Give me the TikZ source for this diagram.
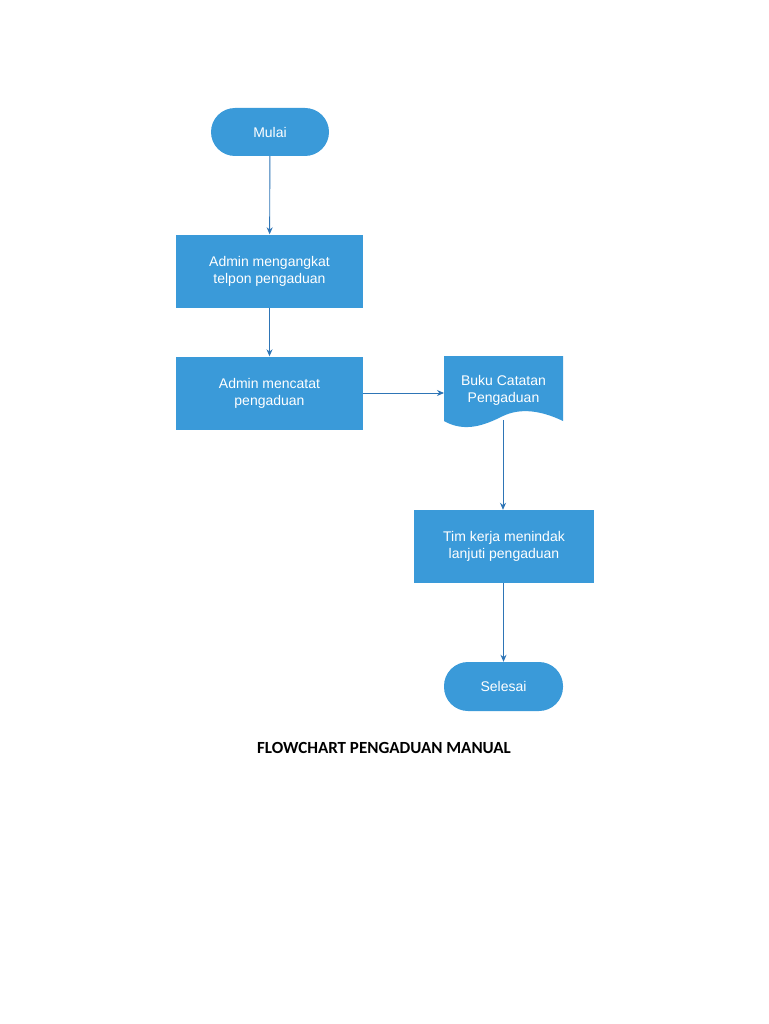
\documentclass[tikz,border=0pt]{standalone}
\usepackage{fontspec}
\setmainfont{Liberation Sans}
\newfontfamily\titlefont{Carlito}
\usetikzlibrary{arrows.meta}
\definecolor{fc}{HTML}{3A9AD9}
\definecolor{lc}{HTML}{2E75B6}
\begin{document}
\begin{tikzpicture}[x=1pt,y=-1pt,
  base/.style={fill=fc,text=white,font=\fontsize{14}{17}\selectfont,align=center,inner sep=0pt},
  procbox/.style={base,minimum width=187pt,minimum height=73pt},
  term/.style={base,rounded corners=24pt,minimum width=118pt,minimum height=48pt},
  conn/.style={draw=lc,line width=0.9pt,-{Stealth[length=7pt,width=6pt]}}]
\useasboundingbox (0,0) rectangle (768,1024);
\node[term] (mulai) at (270,132) {Mulai};
\node[procbox] (b1) at (269.5,271) {Admin mengangkat\\telpon pengaduan};
\node[procbox] (b2) at (269.5,393) {Admin mencatat\\pengaduan};
\fill[fc] (444,356) -- (563,356) -- (563,421)
  .. controls (540,410) and (520,408) .. (503,416)
  .. controls (485,425) and (465,433) .. (444,421) -- cycle;
\node[base,fill=none] (doc) at (503.5,390) {Buku Catatan\\Pengaduan};
\coordinate (docl) at (444,393);
\coordinate (docb) at (503,420);
\node[procbox,minimum width=180pt] (b3) at (504,546.5) {Tim kerja menindak\\lanjuti pengaduan};
\node[term,minimum width=119pt,minimum height=49pt] (selesai) at (503.5,686.5) {Selesai};
\draw[conn] (mulai) -- (b1);
\draw[conn] (b1) -- (b2);
\draw[conn] (b2.east) -- (docl);
\draw[conn] (docb) -- (docb |- b3.north);
\draw[conn] (b3.south -| selesai) -- (selesai);
\node[font=\titlefont\bfseries\fontsize{17}{20}\selectfont] (title) at (384,748) {FLOWCHART PENGADUAN MANUAL};
\end{tikzpicture}
\end{document}
